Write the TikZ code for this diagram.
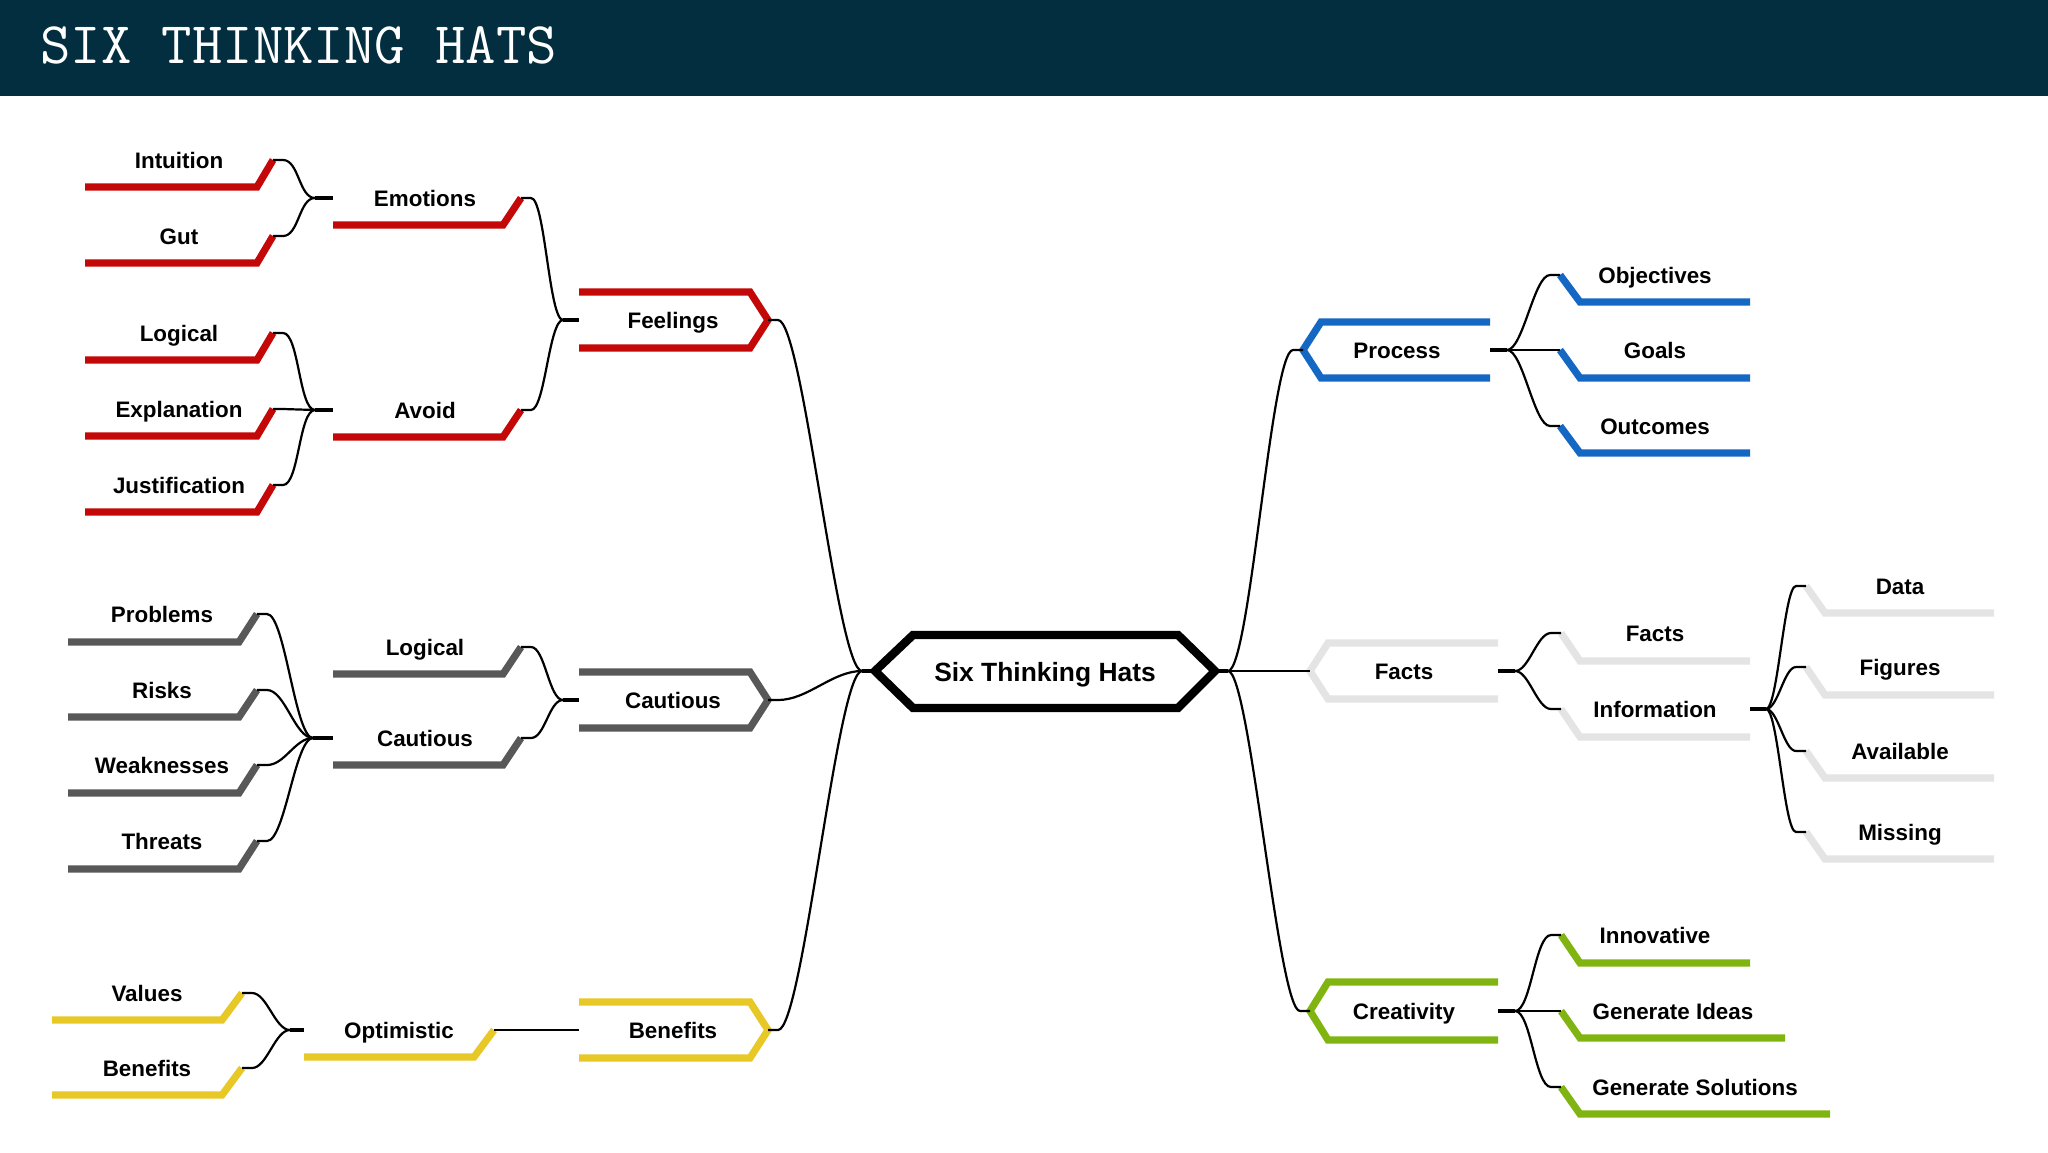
\documentclass[tikz,border=0pt]{standalone}
\usepackage{fontspec}
\setmainfont{Liberation Sans}
\usepackage{tikz}

\definecolor{hatnavy}{RGB}{2,46,64}
\definecolor{hatred}{RGB}{196,8,8}
\definecolor{hatgray}{RGB}{88,88,88}
\definecolor{hatyellow}{RGB}{231,200,38}
\definecolor{hatblue}{RGB}{20,104,196}
\definecolor{hatwhite}{RGB}{228,228,228}
\definecolor{hatgreen}{RGB}{128,180,16}

\tikzset{
  band/.style={line width=3.6pt, line join=miter},
  link/.style={line width=1.1pt, black},
  stub/.style={line width=1.9pt, black},
  lbl/.style={anchor=base, inner sep=0pt, font=\bfseries\fontsize{11.2}{13}\selectfont},
}

\begin{document}
\begin{tikzpicture}[x=0.5pt,y=0.5pt,yscale=-1,xscale=1]
        \useasboundingbox (0,0) rectangle (2048,1152);
        \fill[white] (0,0) rectangle (2048,1152);

        %Shape: Header band
        \fill[hatnavy] (0,0) rectangle (2048,96);
        % Text Node
        \node[anchor=base west, inner sep=0pt, text=white, font=\ttfamily\fontsize{29.5}{34}\selectfont] (title) at (40,63) {SIX THINKING HATS};

        %Shape: Hub hexagon
        \draw[line width=4.2pt, line join=miter] (875,671) coordinate (hub-w) -- (913,635) -- (1178,635) -- (1215,671) coordinate (hub-e) -- (1178,708) -- (913,708) -- cycle;
        \node[lbl, font=\bfseries\fontsize{13.2}{15}\selectfont] (hub) at (1045,681) {Six Thinking Hats};
        \coordinate (hub-jw) at (862,671);
        \coordinate (hub-je) at (1228,671);

        %Shape: Feelings (red)
        \draw[band, hatred] (579,292) -- (750,292) -- (768,320) coordinate (feelings-e) -- (750,348) -- (579,348);
        \node[lbl] (feelings) at (673,328) {Feelings};
        \coordinate (feelings-w) at (579,320);
        \coordinate (feelings-j) at (563,320);
        \draw[band, hatred] (333,225) -- (503,225) -- (521,198) coordinate (emotions-e);
        \node[lbl] (emotions) at (425,206) {Emotions};
        \coordinate (emotions-w) at (333,198);
        \coordinate (emotions-j) at (315,198);
        \draw[band, hatred] (333,437) -- (503,437) -- (521,410) coordinate (avoid-e);
        \node[lbl] (avoid) at (425,418) {Avoid};
        \coordinate (avoid-w) at (333,410);
        \coordinate (avoid-j) at (315,410);
        \draw[band, hatred] (85,187) -- (257,187) -- (273,160) coordinate (intuition-e);
        \node[lbl] (intuition) at (179,168) {Intuition};
        \draw[band, hatred] (85,263) -- (257,263) -- (273,236) coordinate (gut-e);
        \node[lbl] (gut) at (179,244) {Gut};
        \draw[band, hatred] (85,360) -- (257,360) -- (273,333) coordinate (logical-e);
        \node[lbl] (logical) at (179,341) {Logical};
        \draw[band, hatred] (85,436) -- (257,436) -- (273,409) coordinate (explanation-e);
        \node[lbl] (explanation) at (179,417) {Explanation};
        \draw[band, hatred] (85,512) -- (257,512) -- (273,485) coordinate (justification-e);
        \node[lbl] (justification) at (179,493) {Justification};

        %Straight Lines: Feelings links
        \draw[link] (intuition-e) -- ++(10,0) .. controls +(16,0) and +(-16,0) .. (emotions-j);
        \draw[link] (gut-e) -- ++(10,0) .. controls +(16,0) and +(-16,0) .. (emotions-j);
        \draw[stub] (emotions-j) -- (emotions-w);
        \draw[link] (logical-e) -- ++(10,0) .. controls +(16,0) and +(-16,0) .. (avoid-j);
        \draw[link] (explanation-e) -- ++(10,0) .. controls +(16,0) and +(-16,0) .. (avoid-j);
        \draw[link] (justification-e) -- ++(10,0) .. controls +(16,0) and +(-16,0) .. (avoid-j);
        \draw[stub] (avoid-j) -- (avoid-w);
        \draw[link] (emotions-e) -- ++(10,0) .. controls +(14,0) and +(-14,0) .. (feelings-j);
        \draw[link] (avoid-e) -- ++(10,0) .. controls +(14,0) and +(-14,0) .. (feelings-j);
        \draw[stub] (feelings-j) -- (feelings-w);

        %Shape: Cautious (gray)
        \draw[band, hatgray] (579,672) -- (750,672) -- (768,700) coordinate (cautious-e) -- (750,728) -- (579,728);
        \node[lbl] (cautious) at (673,708) {Cautious};
        \coordinate (cautious-w) at (579,700);
        \coordinate (cautious-j) at (563,700);
        \draw[band, hatgray] (333,674) -- (503,674) -- (521,647) coordinate (logic-e);
        \node[lbl] (logic) at (425,655) {Logical};
        \draw[band, hatgray] (333,765) -- (503,765) -- (521,738) coordinate (caution-e);
        \node[lbl] (caution) at (425,746) {Cautious};
        \coordinate (caution-w) at (333,738);
        \coordinate (caution-j) at (313,738);
        \draw[band, hatgray] (68,642) -- (239,642) -- (257,614) coordinate (problems-e);
        \node[lbl] (problems) at (162,622) {Problems};
        \draw[band, hatgray] (68,717) -- (239,717) -- (257,690) coordinate (risks-e);
        \node[lbl] (risks) at (162,698) {Risks};
        \draw[band, hatgray] (68,793) -- (239,793) -- (257,765) coordinate (weaknesses-e);
        \node[lbl] (weaknesses) at (162,773) {Weaknesses};
        \draw[band, hatgray] (68,869) -- (239,869) -- (257,841) coordinate (threats-e);
        \node[lbl] (threats) at (162,849) {Threats};

        %Straight Lines: Cautious links
        \draw[link] (problems-e) -- ++(10,0) .. controls +(18,0) and +(-18,0) .. (caution-j);
        \draw[link] (risks-e) -- ++(10,0) .. controls +(18,0) and +(-18,0) .. (caution-j);
        \draw[link] (weaknesses-e) -- ++(10,0) .. controls +(18,0) and +(-18,0) .. (caution-j);
        \draw[link] (threats-e) -- ++(10,0) .. controls +(18,0) and +(-18,0) .. (caution-j);
        \draw[stub] (caution-j) -- (caution-w);
        \draw[link] (logic-e) -- ++(10,0) .. controls +(14,0) and +(-14,0) .. (cautious-j);
        \draw[link] (caution-e) -- ++(10,0) .. controls +(14,0) and +(-14,0) .. (cautious-j);
        \draw[stub] (cautious-j) -- (cautious-w);

        %Shape: Benefits (yellow)
        \draw[band, hatyellow] (579,1002) -- (750,1002) -- (768,1030) coordinate (benefits-e) -- (750,1058) -- (579,1058);
        \node[lbl] (benefits) at (673,1038) {Benefits};
        \coordinate (benefits-w) at (579,1030);
        \draw[band, hatyellow] (304,1057) -- (474,1057) -- (494,1030) coordinate (optimistic-e);
        \node[lbl] (optimistic) at (399,1038) {Optimistic};
        \coordinate (optimistic-w) at (304,1030);
        \coordinate (optimistic-j) at (290,1030);
        \draw[band, hatyellow] (52,1020) -- (222,1020) -- (242,993) coordinate (values-e);
        \node[lbl] (values) at (147,1001) {Values};
        \draw[band, hatyellow] (52,1095) -- (222,1095) -- (242,1068) coordinate (gains-e);
        \node[lbl] (gains) at (147,1076) {Benefits};

        %Straight Lines: Benefits links
        \draw[link] (values-e) -- ++(10,0) .. controls +(15,0) and +(-15,0) .. (optimistic-j);
        \draw[link] (gains-e) -- ++(10,0) .. controls +(15,0) and +(-15,0) .. (optimistic-j);
        \draw[stub] (optimistic-j) -- (optimistic-w);
        \draw[link] (optimistic-e) -- (benefits-w);

        %Straight Lines: left hats to hub
        \draw[link] (feelings-e) -- ++(10,0) .. controls +(25,0) and +(-25,0) .. (hub-jw);
        \draw[link] (cautious-e) -- ++(10,0) .. controls +(30,0) and +(-30,0) .. (hub-jw);
        \draw[link] (benefits-e) -- ++(10,0) .. controls +(25,0) and +(-25,0) .. (hub-jw);
        \draw[stub] (hub-jw) -- (hub-w);

        %Shape: Process (blue)
        \draw[band, hatblue] (1490,322) -- (1321,322) -- (1303,350) coordinate (process-w) -- (1321,378) -- (1490,378);
        \node[lbl] (process) at (1397,358) {Process};
        \coordinate (process-e) at (1490,350);
        \coordinate (process-j) at (1507,350);
        \draw[band, hatblue] (1560,275) coordinate (objectives-w) -- (1580,302) -- (1750,302);
        \node[lbl] (objectives) at (1655,283) {Objectives};
        \draw[band, hatblue] (1560,350) coordinate (goals-w) -- (1580,378) -- (1750,378);
        \node[lbl] (goals) at (1655,358) {Goals};
        \draw[band, hatblue] (1560,426) coordinate (outcomes-w) -- (1580,453) -- (1750,453);
        \node[lbl] (outcomes) at (1655,434) {Outcomes};

        %Straight Lines: Process links
        \draw[stub] (process-e) -- (process-j);
        \draw[link] (objectives-w) -- ++(-10,0) .. controls +(-16,0) and +(16,0) .. (process-j);
        \draw[link] (goals-w) -- (process-j);
        \draw[link] (outcomes-w) -- ++(-10,0) .. controls +(-16,0) and +(16,0) .. (process-j);

        %Shape: Facts (white)
        \draw[band, hatwhite] (1498,643) -- (1328,643) -- (1310,671) coordinate (facts-w) -- (1328,699) -- (1498,699);
        \node[lbl] (facts) at (1404,679) {Facts};
        \coordinate (facts-e) at (1498,671);
        \coordinate (facts-j) at (1515,671);
        \draw[band, hatwhite] (1561,633) coordinate (fact-w) -- (1580,661) -- (1750,661);
        \node[lbl] (fact) at (1655,641) {Facts};
        \draw[band, hatwhite] (1561,709) coordinate (information-w) -- (1580,737) -- (1750,737);
        \node[lbl] (information) at (1655,717) {Information};
        \coordinate (information-e) at (1750,709);
        \coordinate (information-j) at (1766,709);
        \draw[band, hatwhite] (1806,586) coordinate (data-w) -- (1825,613) -- (1994,613);
        \node[lbl] (data) at (1900,594) {Data};
        \draw[band, hatwhite] (1806,667) coordinate (figures-w) -- (1825,695) -- (1994,695);
        \node[lbl] (figures) at (1900,675) {Figures};
        \draw[band, hatwhite] (1806,751) coordinate (available-w) -- (1825,778) -- (1994,778);
        \node[lbl] (available) at (1900,759) {Available};
        \draw[band, hatwhite] (1806,832) coordinate (missing-w) -- (1825,859) -- (1994,859);
        \node[lbl] (missing) at (1900,840) {Missing};

        %Straight Lines: Facts links
        \draw[stub] (facts-e) -- (facts-j);
        \draw[link] (fact-w) -- ++(-10,0) .. controls +(-14,0) and +(14,0) .. (facts-j);
        \draw[link] (information-w) -- ++(-10,0) .. controls +(-14,0) and +(14,0) .. (facts-j);
        \draw[stub] (information-e) -- (information-j);
        \draw[link] (data-w) -- ++(-10,0) .. controls +(-12,0) and +(12,0) .. (information-j);
        \draw[link] (figures-w) -- ++(-10,0) .. controls +(-12,0) and +(12,0) .. (information-j);
        \draw[link] (available-w) -- ++(-10,0) .. controls +(-12,0) and +(12,0) .. (information-j);
        \draw[link] (missing-w) -- ++(-10,0) .. controls +(-12,0) and +(12,0) .. (information-j);

        %Shape: Creativity (green)
        \draw[band, hatgreen] (1498,982) -- (1328,982) -- (1310,1011) coordinate (creativity-w) -- (1328,1040) -- (1498,1040);
        \node[lbl] (creativity) at (1404,1019) {Creativity};
        \coordinate (creativity-e) at (1498,1011);
        \coordinate (creativity-j) at (1515,1011);
        \draw[band, hatgreen] (1561,935) coordinate (innovative-w) -- (1580,963) -- (1750,963);
        \node[lbl] (innovative) at (1655,943) {Innovative};
        \draw[band, hatgreen] (1561,1011) coordinate (ideas-w) -- (1580,1038) -- (1785,1038);
        \node[lbl] (ideas) at (1673,1019) {Generate Ideas};
        \draw[band, hatgreen] (1561,1087) coordinate (solutions-w) -- (1580,1114) -- (1830,1114);
        \node[lbl] (solutions) at (1695,1095) {Generate Solutions};

        %Straight Lines: Creativity links
        \draw[stub] (creativity-e) -- (creativity-j);
        \draw[link] (innovative-w) -- ++(-10,0) .. controls +(-16,0) and +(16,0) .. (creativity-j);
        \draw[link] (ideas-w) -- (creativity-j);
        \draw[link] (solutions-w) -- ++(-10,0) .. controls +(-16,0) and +(16,0) .. (creativity-j);

        %Straight Lines: hub to right hats
        \draw[stub] (hub-e) -- (hub-je);
        \draw[link] (process-w) -- ++(-10,0) .. controls +(-22,0) and +(22,0) .. (hub-je);
        \draw[link] (hub-e) -- (facts-w);
        \draw[link] (creativity-w) -- ++(-10,0) .. controls +(-22,0) and +(22,0) .. (hub-je);

    \end{tikzpicture}
\end{document}
